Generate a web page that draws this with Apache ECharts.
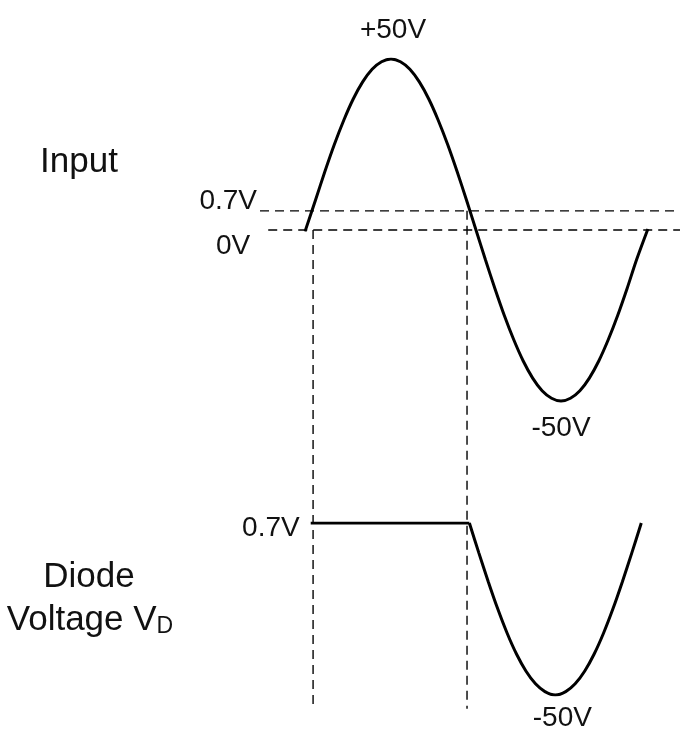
<!DOCTYPE html>
<html>
<head>
<meta charset="utf-8">
<script src="https://cdn.jsdelivr.net/npm/echarts@6/dist/echarts.min.js"></script>
<style>
  html, body { margin: 0; padding: 0; background: #fff; }
  #graph1 { width: 685px; height: 740px; }
</style>
</head>
<body>
<div id="graph1"></div>
<script>
// phase in degrees, values in volts
var inputWave = [
    [-1, -0.4], [10, 8.7], [20, 17.1], [30, 25], [40, 32.1], [50, 38.3], [60, 43.3],
    [70, 47], [80, 49.2], [90, 50], [100, 49.2], [110, 47], [120, 43.3], [130, 38.3],
    [140, 32.1], [150, 25], [160, 17.1], [170, 8.7], [180, 0],
    [190, -8.7], [200, -17.1], [210, -25], [220, -32.1], [230, -38.3], [240, -43.3],
    [250, -47], [260, -49.2], [270, -50], [280, -49.2], [290, -47], [300, -43.3],
    [310, -38.3], [320, -32.1], [330, -25], [340, -17.1], [350, -8.7], [362, 0.3]
];
// diode voltage: clamped at 0.7V, then follows the negative half cycle
var diodeFlat = [[5, 0.7], [173, 0.7]];
var diodeWave = [
    [173, 0.7], [183, -8.1], [193, -16.6], [203, -24.6], [213, -31.8], [223, -38],
    [233, -43], [243, -46.7], [253, -49], [264, -50], [275, -49], [285, -46.7],
    [295, -43], [305, -38], [315, -31.8], [325, -24.6], [335, -16.6], [345, -8.1],
    [355, 0.7]
];
// 0.7V is drawn exaggerated in the sketch (at about 5.6 on the input scale)
var thresholdLine = [[-48.7, 5.6], [396, 5.6]];
var zeroLine = [[-40, 0], [396, 0]];
var guideLeft = [[7.5, 0], [7.5, -140]];
var guideRight = [[170.5, 5.6], [170.5, -140]];

var labelFont = 'Liberation Sans, Arial, sans-serif';

var myChart = echarts.init(document.getElementById('graph1'));

function hiddenAxis(idx, min, max) {
    return {
        type: 'value', gridIndex: idx, min: min, max: max,
        show: false, splitLine: {show: false}
    };
}

var dashStyle = {color: '#000', width: 1.4, type: [9, 6]};
var curveStyle = {color: '#000', width: 3};

function voltLabel(name, coord, offset, align) {
    return {
        name: name, coord: coord, symbol: 'circle', symbolSize: 0,
        label: {
            show: true, formatter: '{b}', position: 'inside', offset: offset,
            align: align || 'center', verticalAlign: 'middle',
            color: '#111', fontSize: 28, fontFamily: labelFont
        }
    };
}

option = {
    animation: false,
    grid: [
        {left: 0, width: 685, top: 59, height: 649.8},
        {left: 0, width: 685, top: 523, height: 172}
    ],
    xAxis: [hiddenAxis(0, -324, 401.3), hiddenAxis(1, -324, 401.3)],
    yAxis: [hiddenAxis(0, -140, 50), hiddenAxis(1, -50, 0.7)],
    series: [
        {
            type: 'line', xAxisIndex: 0, yAxisIndex: 0, data: thresholdLine,
            symbol: 'none', lineStyle: dashStyle,
            markPoint: {data: [voltLabel('0.7V', thresholdLine[0], [-3, -10], 'right')]}
        },
        {
            type: 'line', xAxisIndex: 0, yAxisIndex: 0, data: zeroLine,
            symbol: 'none', lineStyle: dashStyle,
            markPoint: {data: [voltLabel('0V', zeroLine[0], [-18, 16], 'right')]}
        },
        {type: 'line', xAxisIndex: 0, yAxisIndex: 0, data: guideLeft, symbol: 'none', lineStyle: dashStyle},
        {type: 'line', xAxisIndex: 0, yAxisIndex: 0, data: guideRight, symbol: 'none', lineStyle: dashStyle},
        {
            type: 'line', xAxisIndex: 0, yAxisIndex: 0, data: inputWave,
            symbol: 'none', smooth: 0.3, lineStyle: curveStyle,
            markPoint: {data: [
                voltLabel('+50V', [90, 50], [2, -29]),
                voltLabel('-50V', [270, -50], [0, 27])
            ]}
        },
        {
            type: 'line', xAxisIndex: 1, yAxisIndex: 1, data: diodeFlat,
            symbol: 'none', lineStyle: curveStyle,
            markPoint: {data: [voltLabel('0.7V', diodeFlat[0], [-11, 5], 'right')]}
        },
        {
            type: 'line', xAxisIndex: 1, yAxisIndex: 1, data: diodeWave,
            symbol: 'none', smooth: 0.3, lineStyle: curveStyle,
            markPoint: {data: [voltLabel('-50V', [264, -50], [7, 23])]}
        }
    ],
    graphic: [
        {
            type: 'text',
            style: {x: 79, y: 162, text: 'Input', fontSize: 35, fontFamily: labelFont,
                fill: '#111', textAlign: 'center', textVerticalAlign: 'middle'}
        },
        {
            type: 'text',
            style: {x: 89, y: 577, text: 'Diode', fontSize: 35, fontFamily: labelFont,
                fill: '#111', textAlign: 'center', textVerticalAlign: 'middle'}
        },
        {
            type: 'text',
            style: {
                x: 90, y: 620, text: '{a|Voltage V}{s|D}', fontFamily: labelFont,
                fill: '#111', textAlign: 'center', textVerticalAlign: 'middle',
                rich: {
                    a: {fontSize: 35, fontFamily: labelFont, fill: '#111'},
                    s: {fontSize: 23, fontFamily: labelFont, fill: '#111', padding: [14, 0, 0, 0]}
                }
            }
        }
    ]
};

if (option && typeof option === "object") {
    myChart.setOption(option, true);
}
</script>
</body>
</html>
